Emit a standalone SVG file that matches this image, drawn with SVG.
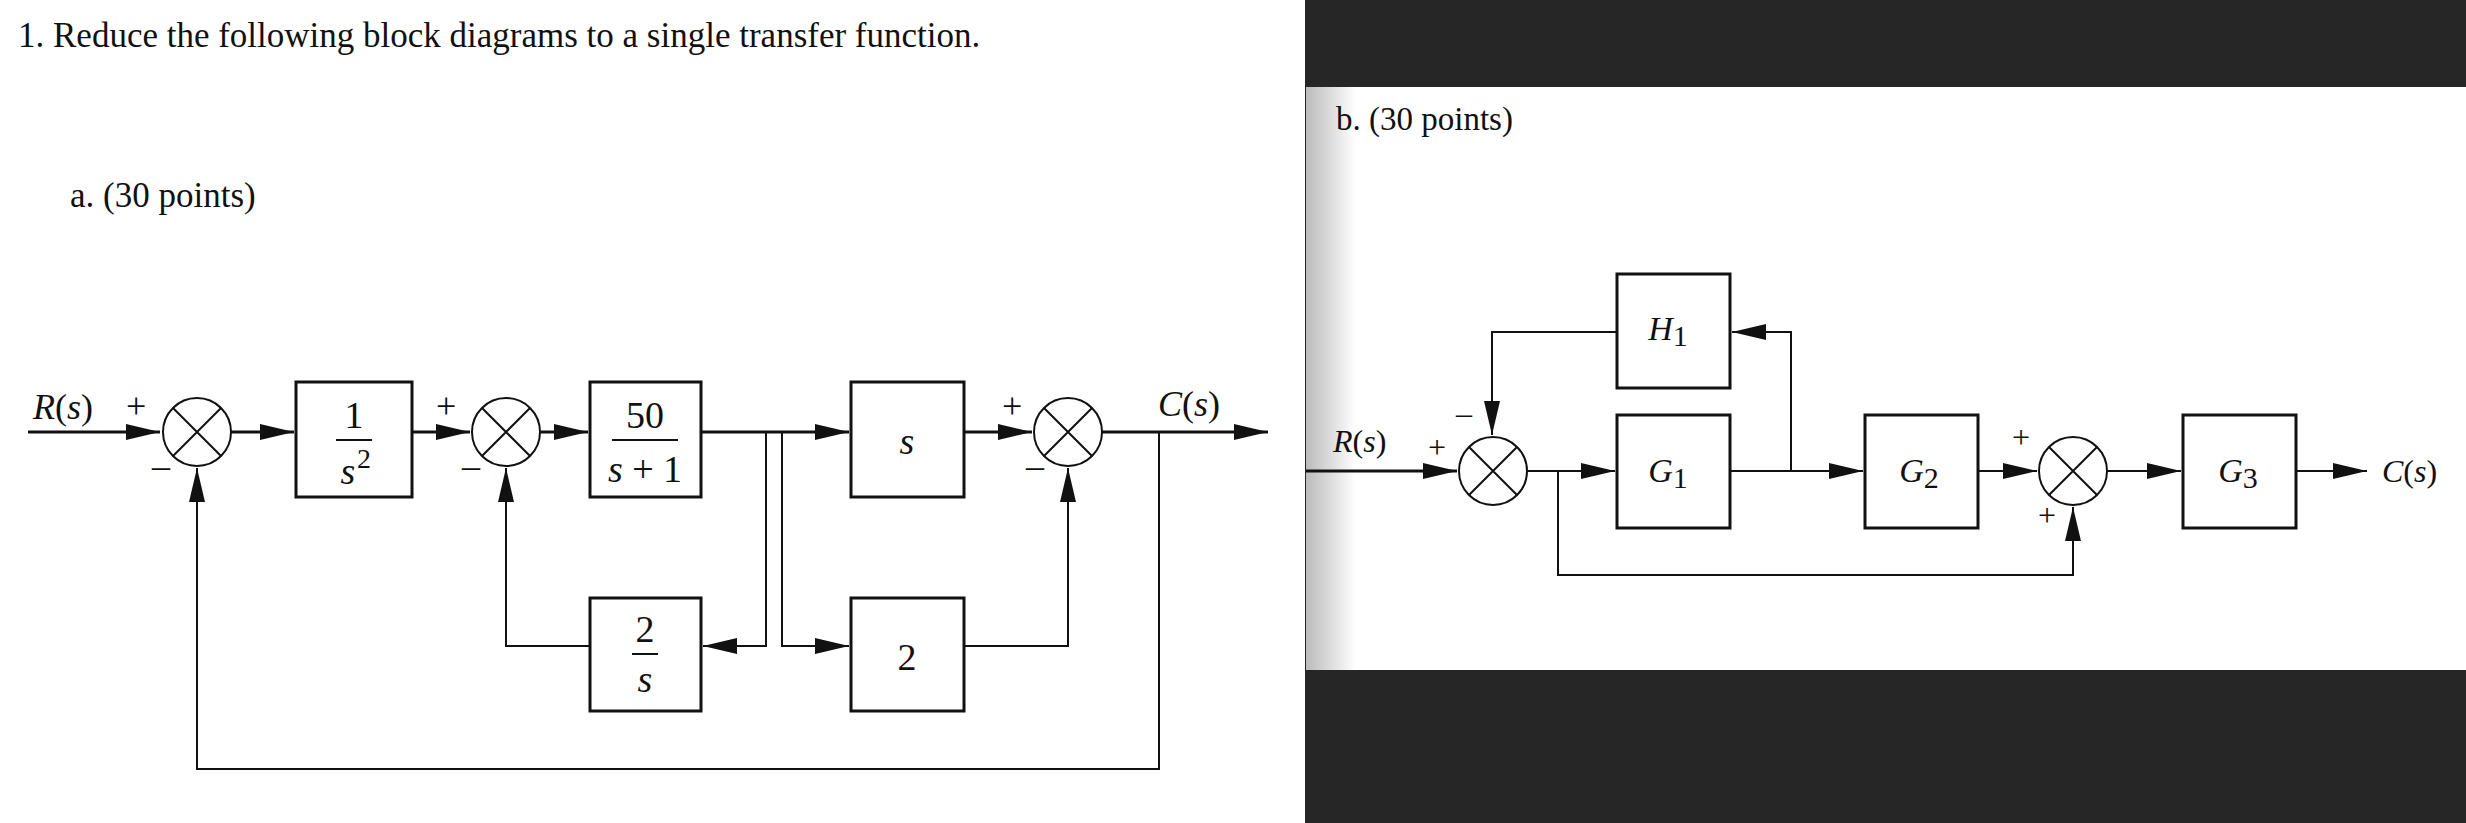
<svg xmlns="http://www.w3.org/2000/svg" width="2466" height="823" viewBox="0 0 2466 823">
<defs>
<marker id="arb" markerWidth="34" markerHeight="16" refX="34" refY="8" orient="auto" markerUnits="userSpaceOnUse"><path d="M0,0 L34,8 L0,16 z" fill="#111"/></marker>
<linearGradient id="sh" x1="0" x2="1"><stop offset="0" stop-color="#bbb"/><stop offset="1" stop-color="#fff"/></linearGradient>
</defs>
<style>
text{font-family:"Liberation Serif","Times New Roman",serif;fill:#111}
.i{font-style:italic}
.w{stroke:#111;stroke-width:2;fill:none}
.m{stroke:#111;stroke-width:3;fill:none}
.b{stroke:#111;stroke-width:3;fill:#fff}
.s{stroke:#111;stroke-width:2;fill:#fff}
</style>
<rect width="2466" height="823" fill="#fff"/>
<rect x="1305" y="0" width="1161" height="823" fill="#262626"/>
<rect x="1306" y="87" width="1160" height="583" fill="#fff"/>
<rect x="1306" y="87" width="50" height="583" fill="url(#sh)"/>
<text x="18" y="47" font-size="35">1.  Reduce the following block diagrams to a single transfer function.</text>
<text x="70" y="207" font-size="35">a.  (30 points)</text>
<text x="1336" y="130" font-size="33">b.  (30 points)</text>

<g id="connectors">
<path class="m" d="M28,432 H160" marker-end="url(#arb)"/>
<path class="m" d="M231,432 H294" marker-end="url(#arb)"/>
<path class="m" d="M412,432 H470" marker-end="url(#arb)"/>
<path class="m" d="M540,432 H588" marker-end="url(#arb)"/>
<path class="m" d="M701,432 H849" marker-end="url(#arb)"/>
<path class="m" d="M964,432 H1032" marker-end="url(#arb)"/>
<path class="m" d="M1102,432 H1268" marker-end="url(#arb)"/>
<path class="w" d="M766,432 V646 H703" marker-end="url(#arb)"/>
<path class="w" d="M782,432 V646 H849" marker-end="url(#arb)"/>
<path class="w" d="M590,646 H506 V468" marker-end="url(#arb)"/>
<path class="w" d="M964,646 H1068 V468" marker-end="url(#arb)"/>
<path class="w" d="M1159,432 V769 H197 V468" marker-end="url(#arb)"/>
<path class="m" d="M1306,471 H1457" marker-end="url(#arb)"/>
<path class="w" d="M1527,471 H1615" marker-end="url(#arb)"/>
<path class="w" d="M1730,471 H1863" marker-end="url(#arb)"/>
<path class="w" d="M1791,471 V332 H1732" marker-end="url(#arb)"/>
<path class="w" d="M1617,332 H1492 V435" marker-end="url(#arb)"/>
<path class="w" d="M1978,471 H2037" marker-end="url(#arb)"/>
<path class="w" d="M2107,471 H2181" marker-end="url(#arb)"/>
<path class="w" d="M2296,471 H2367" marker-end="url(#arb)"/>
<path class="w" d="M1558,471 V575 H2073 V507" marker-end="url(#arb)"/>
</g>

<g id="sumA1"><circle class="s" cx="197" cy="432" r="34"/><path class="w" d="M173,408 L221,456 M221,408 L173,456"/></g>
<g id="sumA2"><circle class="s" cx="506" cy="432" r="34"/><path class="w" d="M482,408 L530,456 M530,408 L482,456"/></g>
<g id="sumA3"><circle class="s" cx="1068" cy="432" r="34"/><path class="w" d="M1044,408 L1092,456 M1092,408 L1044,456"/></g>

<g id="blk1"><rect class="b" x="296" y="382" width="116" height="115"/>
<text x="354" y="428" font-size="38" text-anchor="middle">1</text><path class="w" d="M336,440 H372"/>
<text class="i" x="348" y="484" font-size="38" text-anchor="middle">s</text><text x="357" y="468" font-size="28">2</text></g>
<g id="blk50"><rect class="b" x="590" y="382" width="111" height="115"/>
<text x="645" y="428" font-size="38" text-anchor="middle">50</text><path class="w" d="M612,440 H678"/>
<text x="645" y="482" font-size="38" text-anchor="middle"><tspan class="i">s</tspan> + 1</text></g>
<g id="blkS"><rect class="b" x="851" y="382" width="113" height="115"/>
<text class="i" x="907" y="454" font-size="38" text-anchor="middle">s</text></g>
<g id="blk2s"><rect class="b" x="590" y="598" width="111" height="113"/>
<text x="645" y="642" font-size="38" text-anchor="middle">2</text><path class="w" d="M632,654 H658"/>
<text class="i" x="645" y="692" font-size="38" text-anchor="middle">s</text></g>
<g id="blk2"><rect class="b" x="851" y="598" width="113" height="113"/>
<text x="907" y="670" font-size="38" text-anchor="middle">2</text></g>

<g id="labelsA" font-size="36">
<text x="33" y="419"><tspan class="i">R</tspan>(<tspan class="i">s</tspan>)</text>
<text x="126" y="418">+</text><text x="152" y="478">–</text>
<text x="436" y="418">+</text><text x="462" y="478">–</text>
<text x="1002" y="418">+</text><text x="1026" y="478">–</text>
<text x="1158" y="416"><tspan class="i">C</tspan>(<tspan class="i">s</tspan>)</text>
</g>

<g id="sumB1"><circle class="s" cx="1493" cy="471" r="34"/><path class="w" d="M1469,447 L1517,495 M1517,447 L1469,495"/></g>
<g id="sumB2"><circle class="s" cx="2073" cy="471" r="34"/><path class="w" d="M2049,447 L2097,495 M2097,447 L2049,495"/></g>
<g id="G1"><rect class="b" x="1617" y="415" width="113" height="113"/><text class="i" x="1668" y="482" font-size="34" text-anchor="middle">G<tspan font-style="normal" font-size="30" dy="6">1</tspan></text></g>
<g id="H1"><rect class="b" x="1617" y="274" width="113" height="114"/><text class="i" x="1668" y="340" font-size="34" text-anchor="middle">H<tspan font-style="normal" font-size="30" dy="6">1</tspan></text></g>
<g id="G2"><rect class="b" x="1865" y="415" width="113" height="113"/><text class="i" x="1919" y="482" font-size="34" text-anchor="middle">G<tspan font-style="normal" font-size="30" dy="6">2</tspan></text></g>
<g id="G3"><rect class="b" x="2183" y="415" width="113" height="113"/><text class="i" x="2238" y="482" font-size="34" text-anchor="middle">G<tspan font-style="normal" font-size="30" dy="6">3</tspan></text></g>
<g id="labelsB" font-size="32">
<text x="1333" y="452"><tspan class="i">R</tspan>(<tspan class="i">s</tspan>)</text>
<text x="1428" y="458">+</text><text x="1456" y="424">–</text>
<text x="2012" y="448">+</text><text x="2038" y="526">+</text>
<text x="2382" y="482"><tspan class="i">C</tspan>(<tspan class="i">s</tspan>)</text>
</g>
</svg>
